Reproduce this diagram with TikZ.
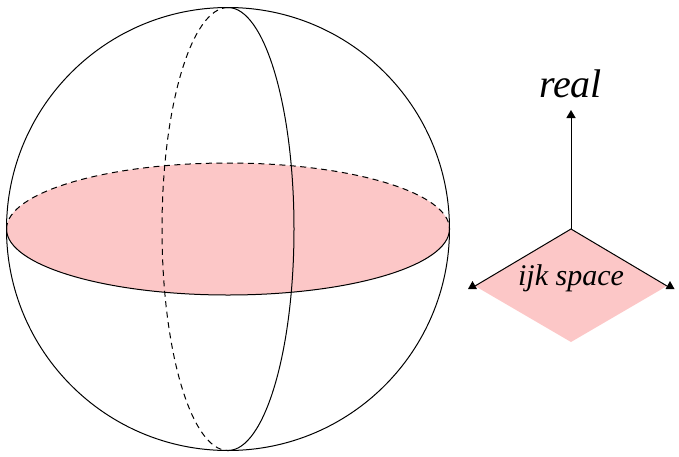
\documentclass[tikz,border=0pt]{standalone}
\usepackage{fontspec}
\setmainfont{Liberation Serif}
\definecolor{planepink}{RGB}{252,199,199}
\tikzset{
  outline/.style={draw=black,line width=1pt},
  hidden/.style={draw=black,line width=1pt,dash pattern=on 6pt off 4.5pt},
  uptip/.style={fill=black,draw=none},
  plane/.style={fill=planepink,draw=none},
  axis/.style={draw=black,line width=1pt},
  bigword/.style={inner sep=0pt,font=\fontsize{40}{40}\selectfont\itshape},
  smallword/.style={inner sep=0pt,font=\fontsize{30}{30}\selectfont\itshape}
}
\begin{document}
\begin{tikzpicture}[x=1pt,y=-1pt]
\useasboundingbox (0,0) rectangle (679,456);
% sphere
\coordinate (c) at (228,229);
\fill[plane] (c) ellipse [x radius=221.5,y radius=66];
\draw[outline] (c) circle [radius=221.5];
% equator
\draw[hidden] (6.5,229) arc [start angle=180,end angle=360,x radius=221.5,y radius=66];
\draw[outline] (6.5,229) arc [start angle=180,end angle=0,x radius=221.5,y radius=66];
% meridian
\draw[hidden] (228,7.5) arc [start angle=270,end angle=90,x radius=66,y radius=221.5];
\draw[outline] (228,7.5) arc [start angle=-90,end angle=90,x radius=66,y radius=221.5];
% axes
\coordinate (o) at (571,229);
\coordinate (l) at (475,286);
\coordinate (r) at (667,286);
\coordinate (b) at (571,342);
\coordinate (t) at (571,117);
\fill[plane] (o) -- (r) -- (b) -- (l) -- cycle;
\draw[axis] (l) -- (o) -- (r);
\draw[axis] (o) -- (t);
\fill[uptip] (571,110) -- (575.7,118) -- (566.3,118) -- cycle;
\fill[uptip] (472.5,281) -- (477,289) -- (468,289) -- cycle;
\fill[uptip] (670,281) -- (674.5,289) -- (665.5,289) -- cycle;
\node[bigword,anchor=base] (realword) at (570.5,97) {real};
\node[smallword,anchor=base] (ijkword) at (571,285) {ijk space};
\end{tikzpicture}
\end{document}
